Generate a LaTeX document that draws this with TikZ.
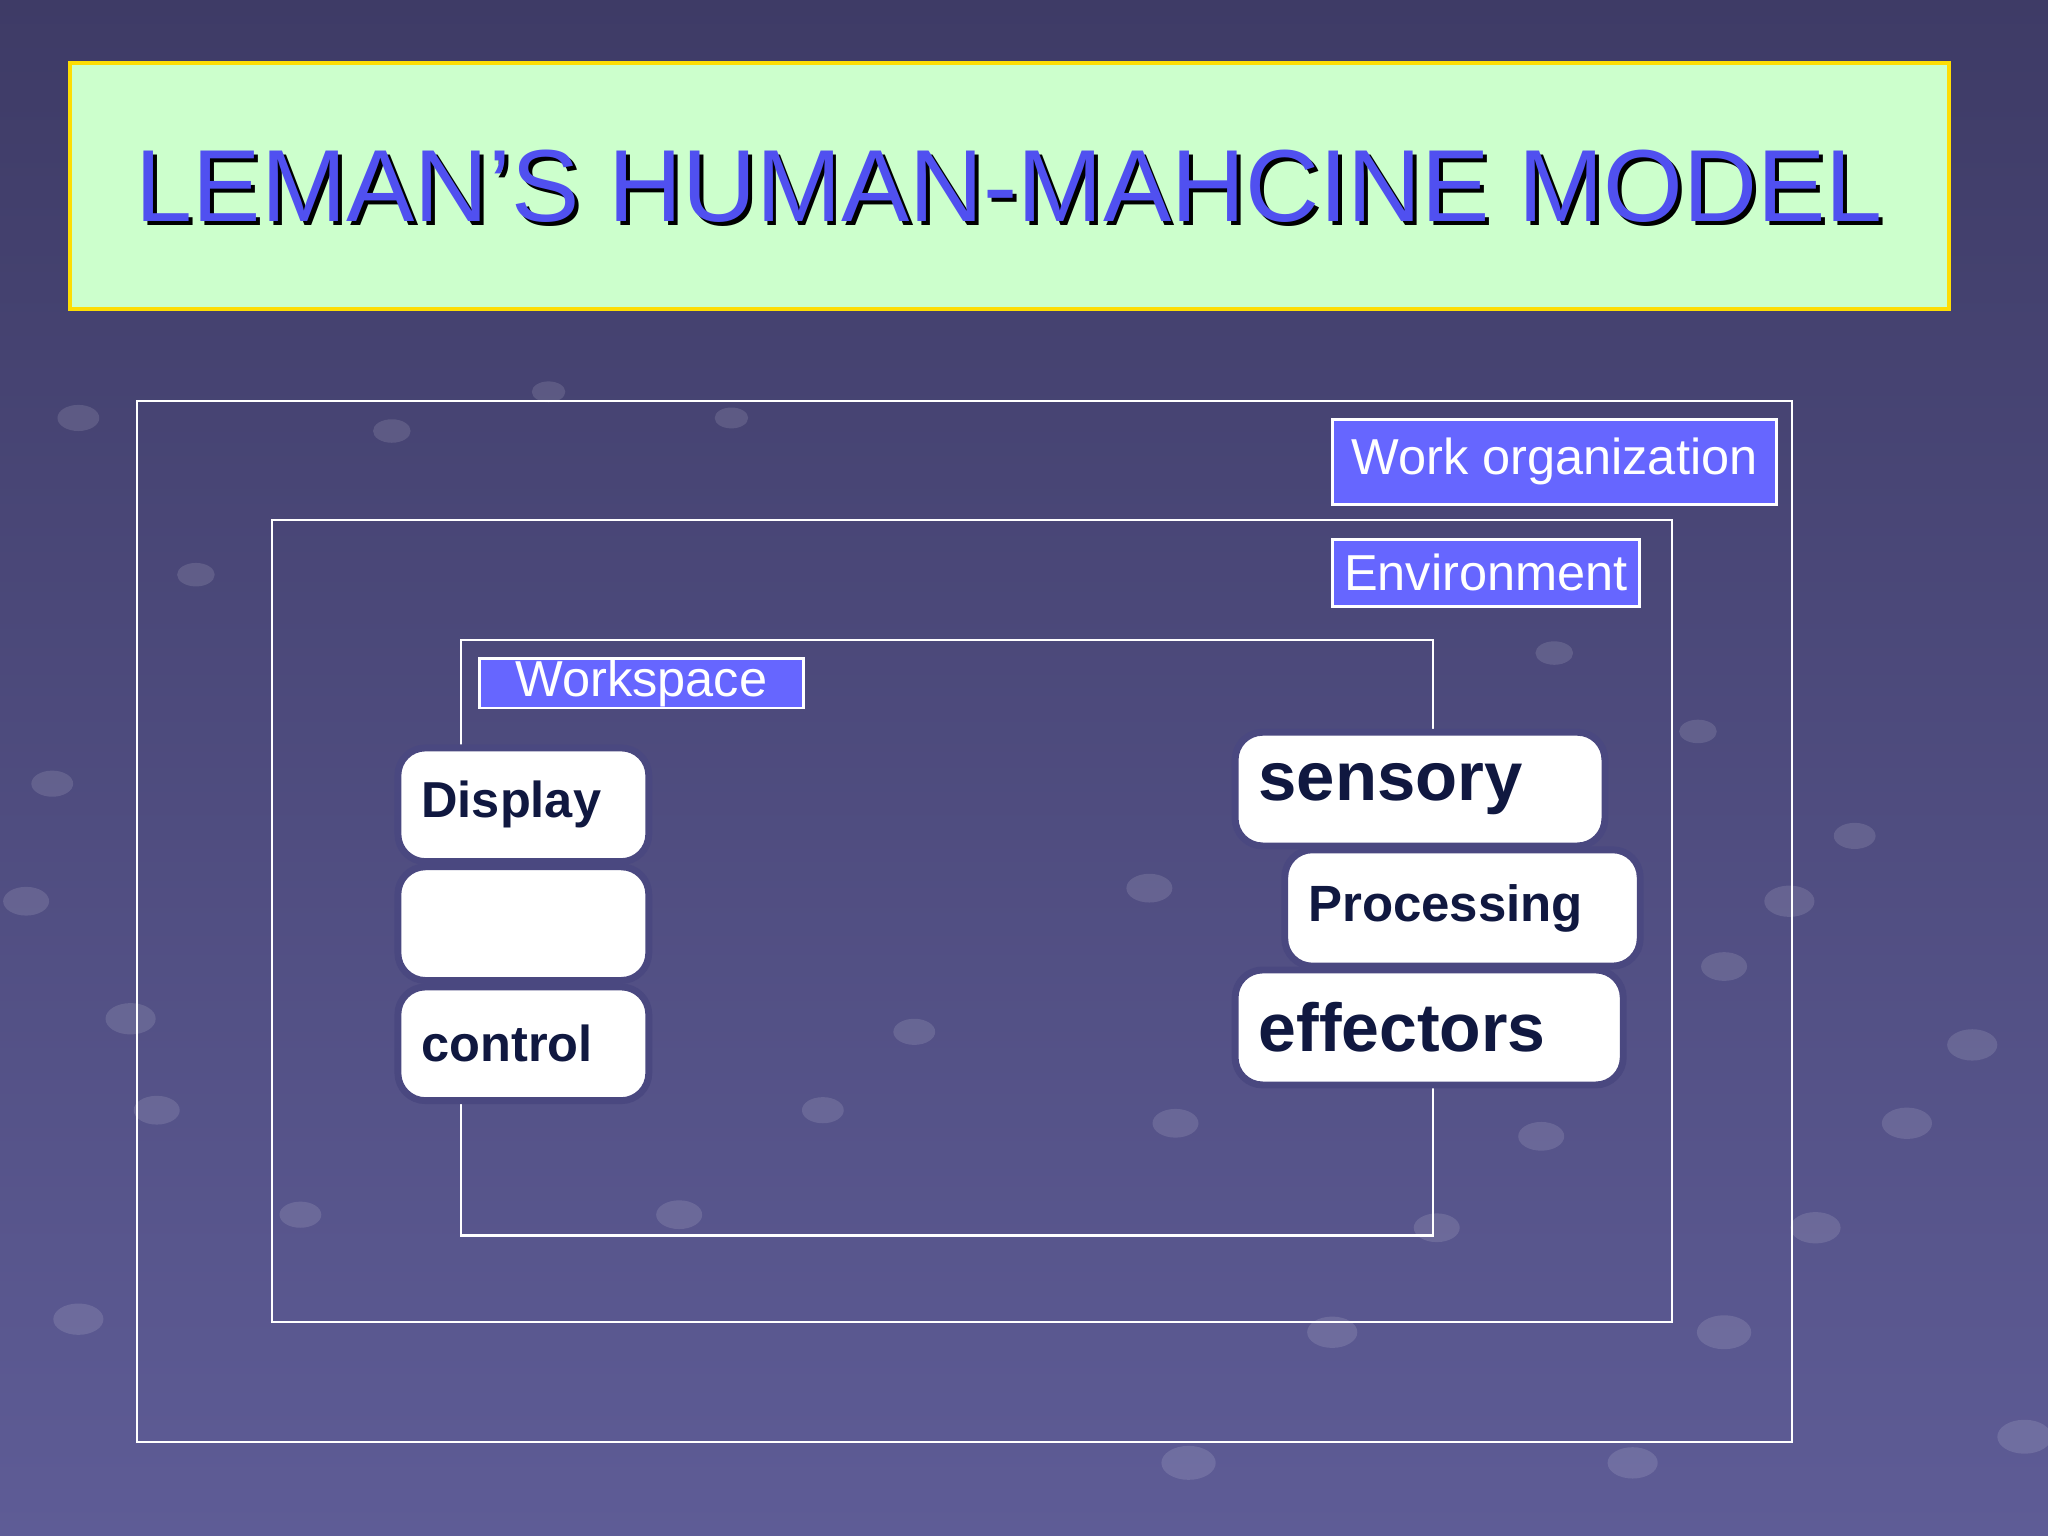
\documentclass[tikz,border=0pt]{standalone}
\usepackage{fontspec}
\setmainfont{Liberation Sans}
\begin{document}
\begin{tikzpicture}[x=0.01cm,y=-0.01cm,
  frame/.style={draw=white,line width=0.5pt},
  tag/.style={draw=white,fill=tagblue,text=white,inner sep=0pt,anchor=north west,line width=0.6pt},
  wbox/.style={draw=boxedge,line width=1.5pt,fill=white,rounded corners=6pt,anchor=north west,inner ysep=0pt,inner xsep=0.18cm,text=navy,font=\bfseries,align=left},
]
\definecolor{bgA}{HTML}{3E3B66}
\definecolor{bgB}{HTML}{5E5C96}
\definecolor{tagblue}{HTML}{6666FF}
\definecolor{navy}{HTML}{101840}
\definecolor{boxedge}{HTML}{4A4880}
\definecolor{titleblue}{HTML}{5050F0}
\useasboundingbox (0,0) rectangle (1568,1176);
\shade[top color=bgA,bottom color=bgB] (0,0) rectangle (1568,1176);
\foreach \x/\y/\r in {60/320/10,150/440/9,40/600/10,20/690/11,100/780/12,120/850/11,1190/500/9,1300/560/9,1420/640/10,1370/690/12,1320/740/11,1510/800/12,1460/860/12,1180/870/11,1390/940/12,1320/1020/13,1020/1020/12,1100/940/11,910/1120/13,1250/1120/12,1550/1100/13,700/790/10,520/930/11,630/850/10,230/930/10,60/1010/12,880/680/11,900/860/11,300/330/9,420/300/8,560/320/8}
  \fill[white,opacity=0.12] (\x,\y) ellipse ({\r*1.6} and \r);
\node[draw=yellow!80!orange,fill=green!20,line width=0.8pt,minimum width=14.38cm,minimum height=1.88cm,anchor=north west,inner sep=0pt] (title) at (52,47) {};
\node[text=black,font=\fontsize{22.3}{26}\selectfont] at ([xshift=0.03cm,yshift=-0.03cm]title.center) {LEMAN’S HUMAN-MAHCINE MODEL};
\node[text=titleblue,font=\fontsize{22.3}{26}\selectfont] (titletext) at (title.center) {LEMAN’S HUMAN-MAHCINE MODEL};
\draw[frame] (105,307) rectangle (1372,1104);
\draw[frame] (208,398) rectangle (1280,1012);
\draw[frame] (353,490) rectangle (1097,946);
\node[tag,minimum width=3.40cm,minimum height=0.65cm,font=\fontsize{11}{13}\selectfont] (work) at (1019,320) {Work organization};
\node[tag,minimum width=2.35cm,minimum height=0.51cm,font=\fontsize{11}{13}\selectfont] (env) at (1019,412) {Environment};
\node[tag,minimum width=2.48cm,minimum height=0.38cm,font=\fontsize{11}{13}\selectfont] (ws) at (366,503) {Workspace};
\node[wbox,minimum width=1.92cm,minimum height=0.87cm,font=\bfseries\fontsize{11}{13}\selectfont,text width=1.56cm] (display) at (302,570) {Display};
\node[wbox,minimum width=1.92cm,minimum height=0.87cm,text width=1.56cm] (blank) at (302,661) {};
\node[wbox,minimum width=1.92cm,minimum height=0.87cm,font=\bfseries\fontsize{11}{13}\selectfont,text width=1.56cm] (control) at (302,753) {control};
\node[wbox,minimum width=2.83cm,minimum height=0.87cm,font=\bfseries\fontsize{15}{17}\selectfont,text width=2.47cm] (sensory) at (943,558) {sensory};
\node[wbox,minimum width=2.72cm,minimum height=0.89cm,font=\bfseries\fontsize{11.1}{13}\selectfont,text width=2.36cm] (proc) at (981,648) {Processing};
\node[wbox,minimum width=2.97cm,minimum height=0.88cm,font=\bfseries\fontsize{14.8}{17}\selectfont,text width=2.61cm] (eff) at (943,740) {effectors};
\end{tikzpicture}
\end{document}
